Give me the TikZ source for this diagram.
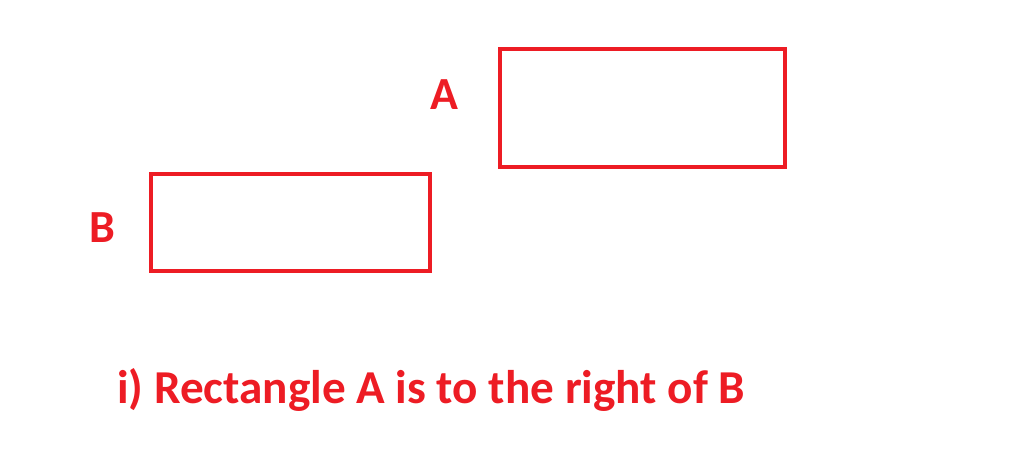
\documentclass[tikz,border=0pt]{standalone}
\usepackage{fontspec}
\setmainfont{Carlito}
\usetikzlibrary{positioning}
\definecolor{paintred}{RGB}{237,28,36}
\begin{document}
\begin{tikzpicture}
	[
		x=1pt, y=-1pt,
		every node/.style={text=paintred, font=\fontsize{46}{50}\selectfont\bfseries, inner sep=0pt}
	]
	\tikzstyle{Box} = [rectangle, draw=paintred, line width=4pt, fill=none]
	\useasboundingbox (0,0) rectangle (1018,463);
	\node [Box, minimum width=285pt, minimum height=118pt] (rectA) at (642.5,108) {};
	\node [Box, minimum width=279pt, minimum height=97pt] (rectB) at (290.5,222.5) {};
	\node [anchor=base] (labelA) at (444,109) {A};
	\node [anchor=base] (labelB) at (102.5,242) {B};
	\node [anchor=base west, font=\fontsize{47.2}{50}\selectfont\bfseries] (caption) at (117,403) {i) Rectangle A is to the right of B};
\end{tikzpicture}
\end{document}
